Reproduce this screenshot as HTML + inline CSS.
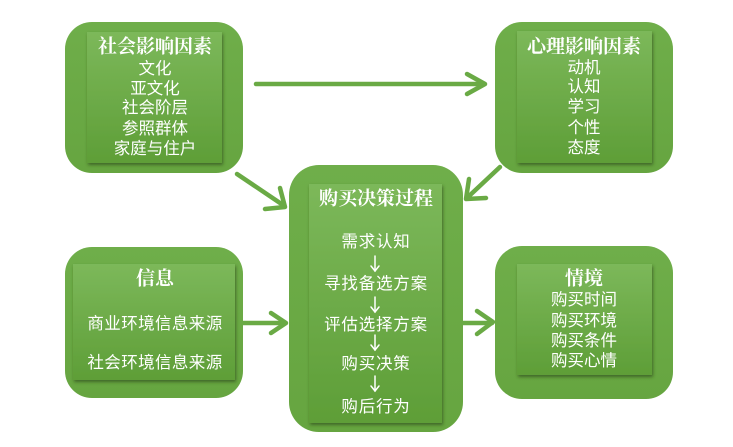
<!DOCTYPE html>
<html><head><meta charset="utf-8">
<style>
html,body{margin:0;padding:0;background:#fff;width:733px;height:447px;overflow:hidden}
svg{display:block}
.t{font-family:"Liberation Serif","Noto Serif CJK SC",serif;font-weight:bold;font-size:19px;fill:#fff}
.i{font-family:"Liberation Sans","Noto Sans CJK SC",sans-serif;font-size:16.5px;fill:#fff}
</style></head><body>
<svg width="733" height="447" viewBox="0 0 733 447" xmlns="http://www.w3.org/2000/svg">
<defs>
<linearGradient id="og" x1="0" y1="0" x2="0" y2="1">
<stop offset="0" stop-color="#6fae4a"/><stop offset="1" stop-color="#66a540"/>
</linearGradient>
<linearGradient id="ig" x1="0" y1="0" x2="0" y2="1">
<stop offset="0" stop-color="#7cb85a"/><stop offset="1" stop-color="#5e9e37"/>
</linearGradient>
<filter id="sh" x="-10%" y="-10%" width="125%" height="125%">
<feDropShadow dx="1" dy="2" stdDeviation="1.5" flood-color="#2d4d1a" flood-opacity="0.7"/>
</filter>
</defs>

<!-- arrows -->
<g stroke="#6aaa45" stroke-width="4.5" fill="none" stroke-linecap="round" stroke-linejoin="round">
<line x1="256" y1="84" x2="483" y2="84"/>
<polyline points="467,74 485,84 467,94"/>
<line x1="237" y1="174" x2="283" y2="205"/>
<polyline points="280,188 285,207 265,209"/>
<line x1="500" y1="167" x2="468" y2="197"/>
<polyline points="469,179 466,199 486,198"/>
<line x1="243" y1="323" x2="285" y2="323"/>
<polyline points="271,313 286,323 271,333"/>
<line x1="462" y1="323" x2="492" y2="323"/>
<polyline points="477,311 493,322 477,334"/>
</g>

<!-- social box -->
<rect x="65" y="22" width="178" height="151" rx="27" fill="url(#og)"/>
<rect x="87" y="32" width="135" height="131" fill="url(#ig)" filter="url(#sh)"/>
<g text-anchor="middle" dominant-baseline="central">
<text class="t" x="155" y="47">社会影响因素</text>
<text class="i" x="155" y="69">文化</text>
<text class="i" x="155" y="89">亚文化</text>
<text class="i" x="155" y="108">社会阶层</text>
<text class="i" x="155" y="129">参照群体</text>
<text class="i" x="155" y="149">家庭与住户</text>
</g>

<!-- psych box -->
<rect x="495" y="22" width="178" height="151" rx="27" fill="url(#og)"/>
<rect x="517" y="31" width="135" height="132" fill="url(#ig)" filter="url(#sh)"/>
<g text-anchor="middle" dominant-baseline="central">
<text class="t" x="584" y="47">心理影响因素</text>
<text class="i" x="584" y="68">动机</text>
<text class="i" x="584" y="87">认知</text>
<text class="i" x="584" y="107">学习</text>
<text class="i" x="584" y="128">个性</text>
<text class="i" x="584" y="148">态度</text>
</g>

<!-- center box -->
<rect x="289" y="165" width="174" height="267" rx="30" fill="url(#og)"/>
<rect x="309" y="184" width="133" height="239" fill="url(#ig)" filter="url(#sh)"/>
<g text-anchor="middle" dominant-baseline="central">
<text class="t" x="376" y="199">购买决策过程</text>
<text class="i" x="376" y="242" letter-spacing="0.8">需求认知</text>
<text class="i" x="376" y="284" letter-spacing="0.8">寻找备选方案</text>
<text class="i" x="376" y="325" letter-spacing="0.8">评估选择方案</text>
<text class="i" x="376" y="364" letter-spacing="0.8">购买决策</text>
<text class="i" x="376" y="407" letter-spacing="0.8">购后行为</text>
</g>
<g stroke="#fff" stroke-width="1.5" fill="none" stroke-linecap="round">
<line x1="375" y1="256" x2="375" y2="271"/><polyline points="371,266 375,271 379,266"/>
<line x1="375" y1="297" x2="375" y2="312"/><polyline points="371,307 375,312 379,307"/>
<line x1="375" y1="335" x2="375" y2="350"/><polyline points="371,345 375,350 379,345"/>
<line x1="375" y1="376" x2="375" y2="391"/><polyline points="371,386 375,391 379,386"/>
</g>

<!-- info box -->
<rect x="65" y="247" width="178" height="151" rx="27" fill="url(#og)"/>
<rect x="73" y="264" width="162" height="116" fill="url(#ig)" filter="url(#sh)"/>
<g text-anchor="middle" dominant-baseline="central">
<text class="t" x="155" y="279">信息</text>
<text class="i" x="155" y="324" letter-spacing="0.4">商业环境信息来源</text>
<text class="i" x="155" y="363" letter-spacing="0.4">社会环境信息来源</text>
</g>

<!-- situation box -->
<rect x="495" y="246" width="178" height="153" rx="27" fill="url(#og)"/>
<rect x="517" y="264" width="135" height="111" fill="url(#ig)" filter="url(#sh)"/>
<g text-anchor="middle" dominant-baseline="central">
<text class="t" x="584" y="279">情境</text>
<text class="i" x="584" y="300">购买时间</text>
<text class="i" x="584" y="321">购买环境</text>
<text class="i" x="584" y="341">购买条件</text>
<text class="i" x="584" y="361">购买心情</text>
</g>
</svg>
</body></html>
